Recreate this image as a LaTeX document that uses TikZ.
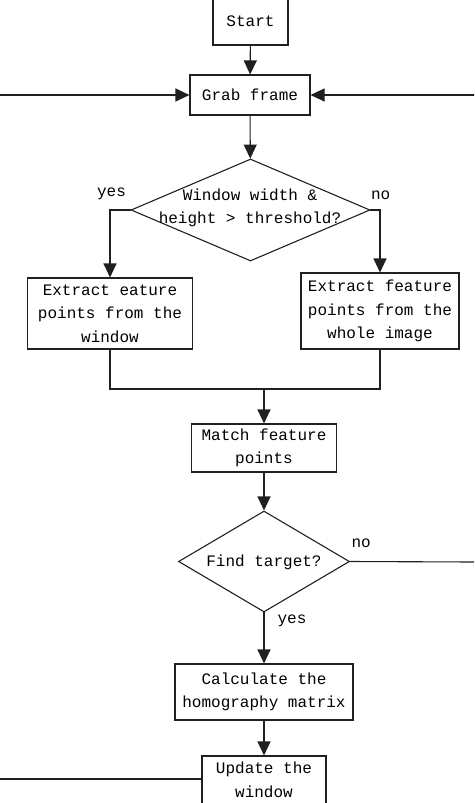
\documentclass[tikz,border=0pt]{standalone}
\usepackage{fontspec}
\setmainfont{Liberation Mono}
\usepackage{xcolor}
\usetikzlibrary{arrows.meta, shapes.geometric}
\definecolor{line_gray}{HTML}{202020}

\begin{document}
\begin{tikzpicture}[
            x=1pt,
            y=-1pt,
            line width=1.1pt,
            line cap=rect,
            font=\fontsize{16}{23.5}\selectfont,
            process/.style={draw=line_gray, rectangle, align=center, inner sep=0pt},
            decision/.style={draw=line_gray, diamond, inner sep=0pt},
            flow/.style={draw=line_gray, -{Triangle[length=14pt, width=13pt]}},
            tag/.style={inner sep=1pt}
        ]
            \clip (0,0) rectangle (474,803);

            % Boxes
            \node[process, minimum width=75pt, minimum height=48pt] (start) at (250.5,21) {Start};
            \node[process, minimum width=120pt, minimum height=40pt] (grab) at (250,95) {Grab frame};
            \node[decision, minimum width=239pt, minimum height=102pt] (cond) at (250.5,210) {};
            \node[align=center] at (250,208) {Window width \&\\height > threshold?};
            \node[process, minimum width=165pt, minimum height=71pt] (winbox) at (110,313.5) {Extract eature\\points from the\\window};
            \node[process, minimum width=158pt, minimum height=76pt] (imgbox) at (380,311) {Extract feature\\points from the\\whole image};
            \node[process, minimum width=145pt, minimum height=48pt] (match) at (264,448) {Match feature\\points};
            \node[decision, minimum width=171pt, minimum height=101pt] (found) at (264,561.5) {};
            \node at (264,562) {Find target?};
            \node[process, minimum width=178pt, minimum height=56pt] (homog) at (264,692) {Calculate the\\homography matrix};
            \node[process, minimum width=124pt, minimum height=48pt] (update) at (264,780) {Update the\\window};

            % Free ends and joints
            \coordinate (leftin) at (0,95);
            \coordinate (rightin) at (474,95);
            \coordinate (merge) at (264,389);
            \coordinate (loopout) at (474,562);
            \coordinate (updout) at (0,779);

            % Connectors
            \draw[flow] (start) -- (grab);
            \draw[flow] (leftin) -- (grab);
            \draw[flow] (rightin) -- (grab);
            \draw[flow] (grab) -- (cond);
            \draw[flow] (cond.west) -| (winbox.north);
            \draw[flow] (cond.east) -| (imgbox.north);
            \draw[draw=line_gray] (winbox.south) |- (merge);
            \draw[draw=line_gray] (imgbox.south) |- (merge);
            \draw[flow] (merge) -- (match);
            \draw[flow] (match) -- (found);
            \draw[draw=line_gray] (found.east) -- (loopout);
            \draw[flow] (found) -- (homog);
            \draw[flow] (homog) -- (update);
            \draw[draw=line_gray] (update.west |- updout) -- (updout);

            % Branch labels
            \node[tag, anchor=south east] at ([xshift=-3pt, yshift=9pt]cond.west) {yes};
            \node[tag, anchor=south west] at ([xshift=-1pt, yshift=9pt]cond.east) {no};
            \node[tag, anchor=south west] at ([xshift=0pt, yshift=12pt]found.east) {no};
            \node[tag, anchor=north west] at ([xshift=12pt, yshift=-1pt]found.south) {yes};
        \end{tikzpicture}
\end{document}
